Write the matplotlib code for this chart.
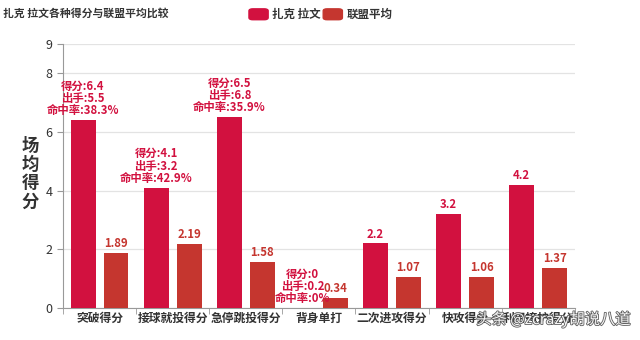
import numpy as np
import matplotlib
matplotlib.use("Agg")
import matplotlib.pyplot as plt
import matplotlib.patheffects as pe
from matplotlib.patches import FancyBboxPatch

plt.rcParams['font.family'] = ['Noto Sans CJK SC', 'DejaVu Sans']

# --------------------------------------------------
# Data
# --------------------------------------------------
categories = ["突破得分", "接球就投得分", "急停跳投得分", "背身单打",
              "二次进攻得分", "快攻得分", "利用掩护得分"]
lavine_pts = [6.4, 4.1, 6.5, 0, 2.2, 3.2, 4.2]
league_pts = [1.89, 2.19, 1.58, 0.34, 1.07, 1.06, 1.37]
# shots / fg% for the first four categories
lavine_fga = [5.5, 3.2, 6.8, 0.2]
lavine_fgp = ["38.3%", "42.9%", "35.9%", "0%"]

series_names = ["扎克 拉文", "联盟平均"]
c_player = "#D2113F"
c_league = "#C5362F"

# --------------------------------------------------
# Figure
# --------------------------------------------------
fig = plt.figure(figsize=(6.4, 3.4), dpi=100)
ax = fig.add_axes([0.0984, 0.094, 0.7996, 0.777])

x = np.arange(len(categories))
width = 0.34
off = 0.225

ax.bar(x - off, lavine_pts, width, color=c_player, zorder=3)
ax.bar(x + off, league_pts, width, color=c_league, zorder=3)

# labels on bars
for i, v in enumerate(lavine_pts):
    if i < len(lavine_fga):
        txt = "得分:%g\n出手:%g\n命中率:%s" % (v, lavine_fga[i], lavine_fgp[i])
    else:
        txt = "%g" % v
    ax.text(x[i] - off, v + 0.1, txt, ha="center", va="bottom",
            color=c_player, fontsize=8.2, fontweight="bold", linespacing=0.92)

for i, v in enumerate(league_pts):
    ax.text(x[i] + off, v + 0.1, "%.2f" % v, ha="center", va="bottom",
            color=c_league, fontsize=8.2, fontweight="bold")

# axes styling
ax.set_xlim(-0.5, len(categories) - 0.5)
ax.set_ylim(0, 9)
ax.set_yticks([0, 2, 4, 6, 8, 9])
ax.tick_params(axis="y", labelsize=9, colors="#333333", length=4, color="#999999")
ax.set_xticks(x)
ax.set_xticklabels(categories, fontsize=8.5, fontweight="bold", color="#333333")
ax.tick_params(axis="x", length=0, pad=3)
ax.set_xticks(np.arange(len(categories) + 1) - 0.5, minor=True)
ax.tick_params(axis="x", which="minor", length=4, color="#999999")
ax.grid(axis="y", color="#e3e3e3", linewidth=0.9, zorder=0)
for s in ["top", "right"]:
    ax.spines[s].set_visible(False)
ax.spines["left"].set_color("#999999")
ax.spines["bottom"].set_color("#999999")

# y label as stacked characters
fig.text(0.047, 0.488, "场\n均\n得\n分", ha="center", va="center",
         fontsize=12.5, fontweight="bold", color="#333333", linespacing=1.05)

# title
fig.text(0.005, 0.978, "扎克 拉文各种得分与联盟平均比较", ha="left", va="top",
         fontsize=7.8, fontweight="bold", color="#333333")

# legend
for lx, col, name in [(0.389, c_player, series_names[0]),
                      (0.505, c_league, series_names[1])]:
    fig.patches.append(FancyBboxPatch((lx, 0.942), 0.03, 0.032,
                                      boxstyle="round,pad=0,rounding_size=0.006",
                                      transform=fig.transFigure, color=col))
    fig.text(lx + 0.036, 0.957, name, ha="left", va="center",
             fontsize=8.3, fontweight="bold", color="#333333")

# watermark
fig.text(0.985, 0.06, "头条 @zcrazy胡说八道", ha="right", va="center",
         fontsize=11, color="white", alpha=0.95,
         path_effects=[pe.withStroke(linewidth=1.2, foreground="#555555")])

fig.savefig("out.png", dpi=100)
